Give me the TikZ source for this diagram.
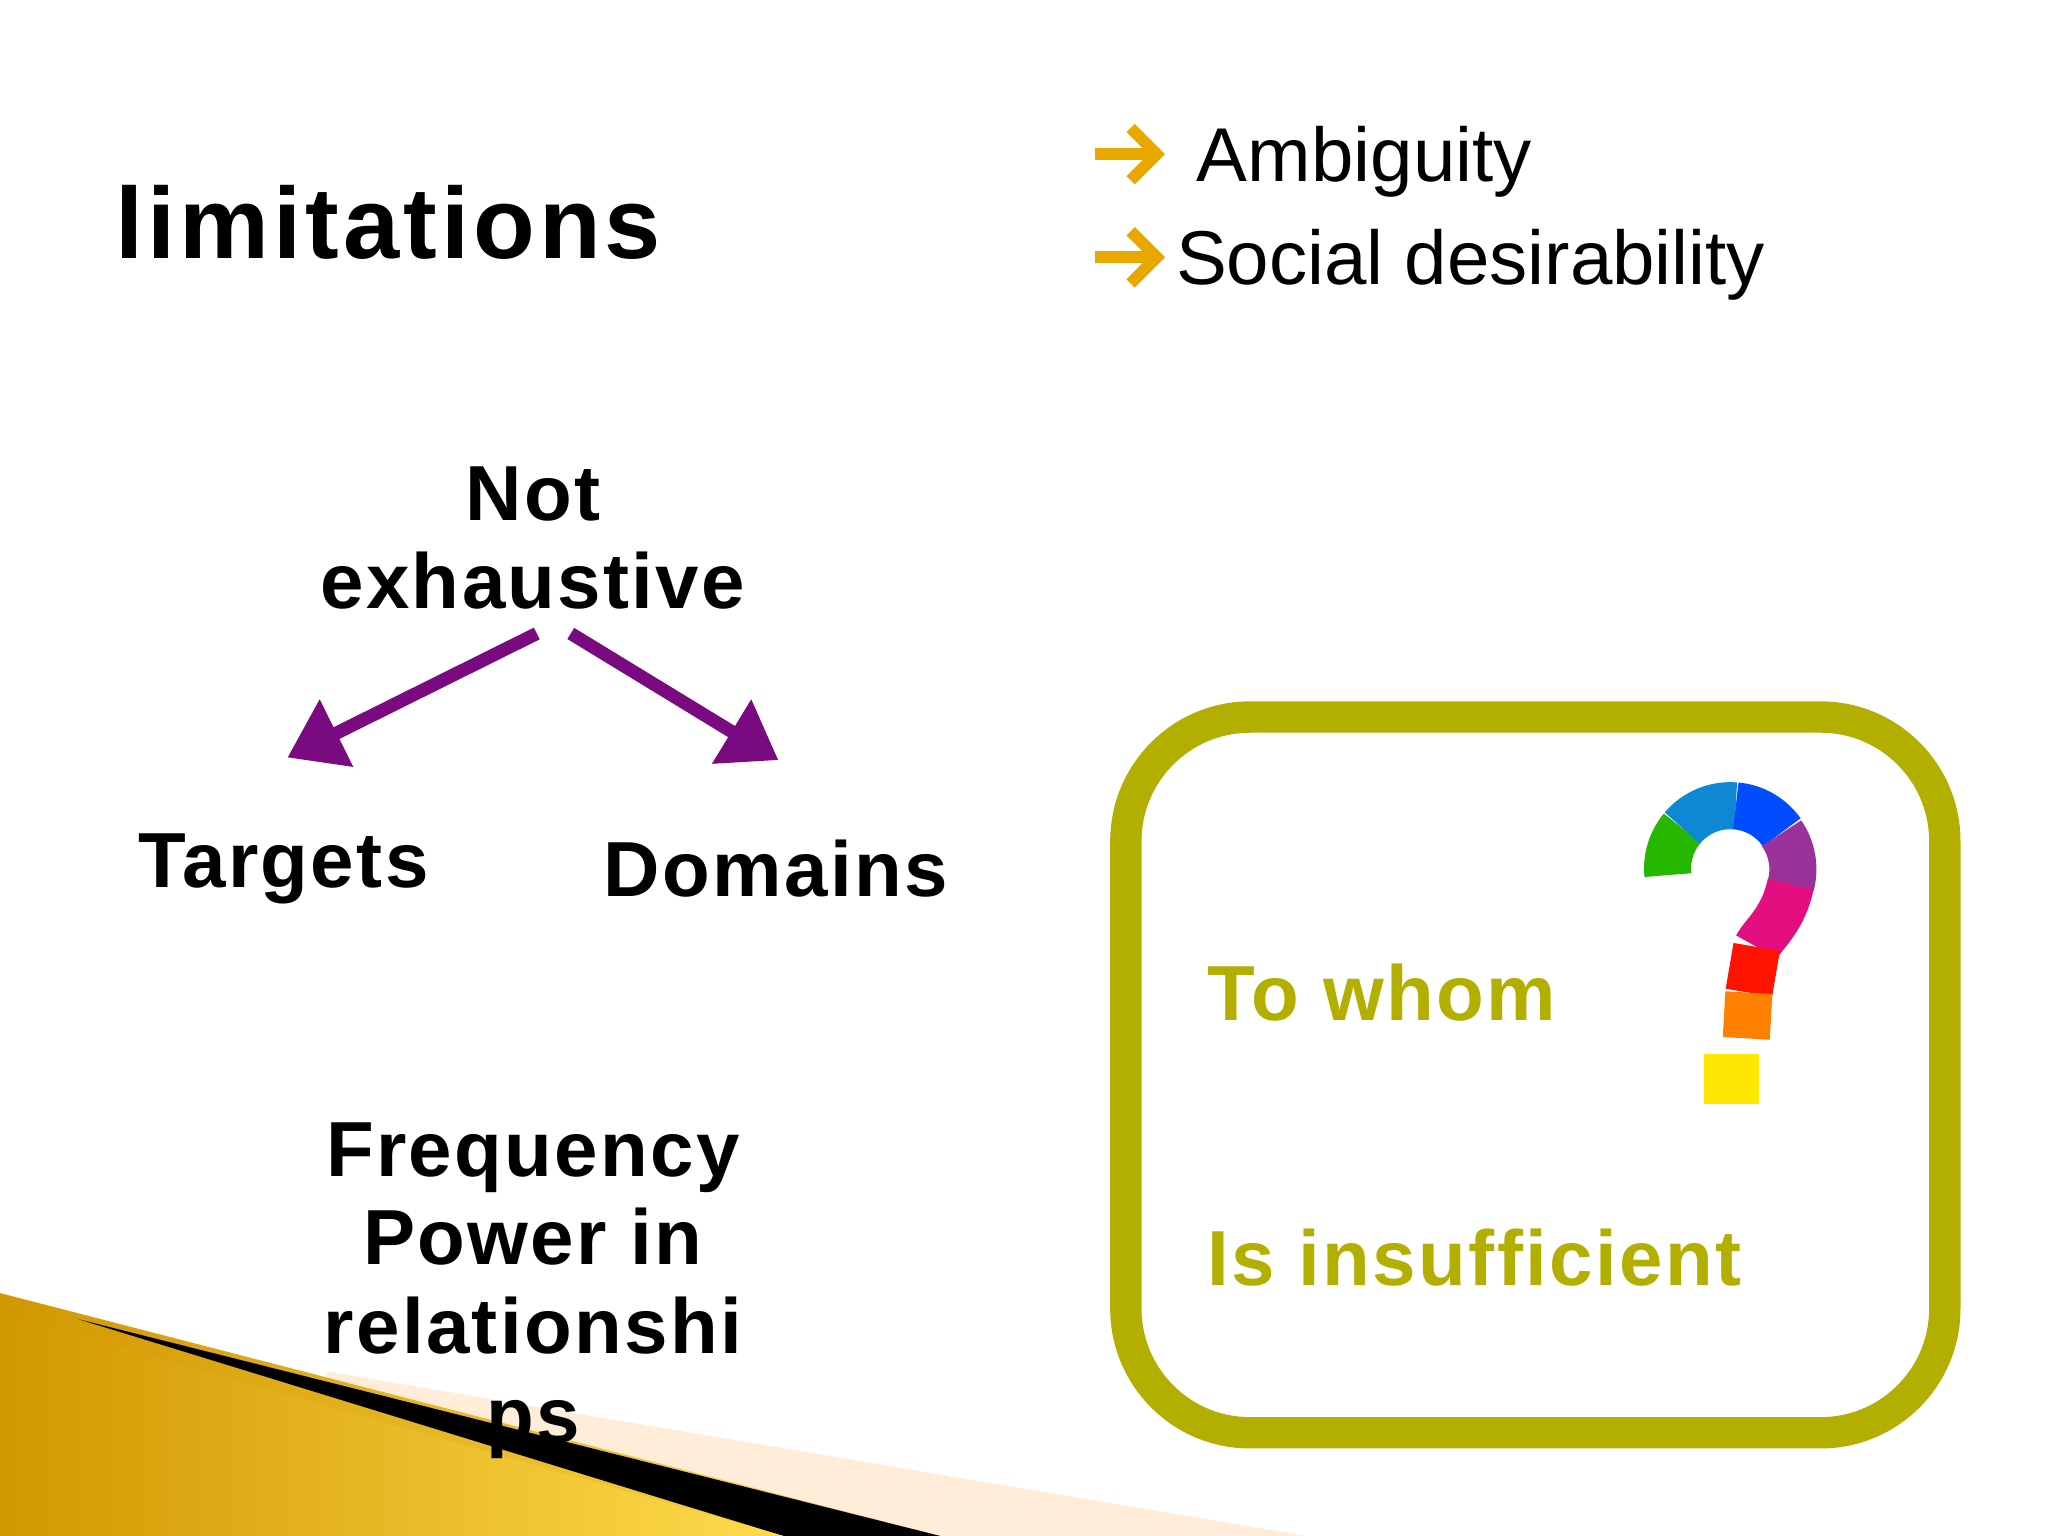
\documentclass[tikz,border=0pt]{standalone}
\usepackage{fontspec}
\setmainfont{Liberation Sans}
\usetikzlibrary{arrows.meta}
\definecolor{olive}{HTML}{B3AF00}
\definecolor{purp}{HTML}{7A0A80}
\definecolor{orng}{HTML}{E8A800}
\tikzset{
 bodytxt/.style={font=\fontsize{17}{19.3}\selectfont\bfseries\addfontfeatures{LetterSpace=3}, align=center},
 boxtxt/.style={font=\fontsize{17}{23}\selectfont\bfseries\addfontfeatures{LetterSpace=3}, text=olive, anchor=west},
 itemtxt/.style={font=\fontsize{16.6}{20}\selectfont, anchor=west},
 parr/.style={purp, line width=0.1cm, -{Triangle[length=0.42cm,width=0.55cm]}},
 oarr/.style={orng, line width=0.09cm, -{Straight Barb[length=0.2cm,width=0.4cm]}},
 qseg/.style={line width=0.36cm}
}
\begin{document}
\begin{tikzpicture}[x=0.01cm,y=-0.01cm]
\useasboundingbox (0,0) rectangle (1568,1176);
\fill[white] (0,0) rectangle (1568,1176);
% bottom-left decoration
\fill[orange!15] (250,1050) -- (1000,1176) -- (250,1176) -- cycle;
\shade[left color=orng!90!black, right color=yellow!60!orange!70] (0,990) -- (720,1176) -- (0,1176) -- cycle;
\fill[black] (60,1010) -- (720,1176) -- (600,1176) -- cycle;
\shade[left color=orng!90!black, right color=yellow!60!orange!70] (0,1005) -- (600,1176) -- (0,1176) -- cycle;
% title
\node[anchor=base west, font=\fontsize{22}{28}\selectfont\bfseries\addfontfeatures{LetterSpace=4}] (title) at (76,198) {limitations};
% items
\node[itemtxt] (amb) at (904,124) {Ambiguity};
\node[itemtxt] (soc) at (888,203) {Social desirability};
\coordinate (a1) at (838,118); \coordinate (a1e) at (892,118);
\coordinate (a2) at (838,197); \coordinate (a2e) at (892,197);
\draw[oarr] (a1) -- (a1e);
\draw[oarr] (a2) -- (a2e);
% tree
\node[bodytxt] (ne) at (408,412) {Not\\exhaustive};
\node[bodytxt] (tg) at (217,665) {Targets};
\node[bodytxt] (dm) at (594,665) {Domains};
\coordinate (s1) at (411,485); \coordinate (e1) at (220,580);
\coordinate (s2) at (437,485); \coordinate (e2) at (596,582);
\draw[parr] (s1) -- (e1);
\draw[parr] (s2) -- (e2);
\node[bodytxt] (fr) at (408,988) {Frequency\\Power in\\relationshi\\ps};
% box
\draw[olive, line width=0.24cm, rounded corners=0.95cm] (862,549) rectangle (1489,1097);
\node[boxtxt] (tw) at (912,760) {To whom};
\node[boxtxt] (ins) at (912,963) {Is insufficient};
% question mark
\begin{scope}[shift={(1325,665)},x=0.01cm,y=0.01cm]
\draw[qseg,green!65!black!80!lime] (-48,-5) arc (186:140:48);
\draw[qseg,cyan!70!blue] (-37,31) arc (140:85:48);
\draw[qseg,blue!70!cyan] (4,48) arc (85:35:48);
\draw[qseg,violet!80] (39,27) arc (35:-15:48);
\draw[qseg,magenta!80!purple] (46,-12) .. controls (40,-40) and (25,-50) .. (20,-60);
\draw[qseg,red!85!orange] (20,-60) -- (14,-95);
\draw[qseg,orange] (14,-95) -- (12,-130);
\fill[yellow!90!orange] (-20,-142) rectangle (22,-180);
\end{scope}
\end{tikzpicture}
\end{document}
